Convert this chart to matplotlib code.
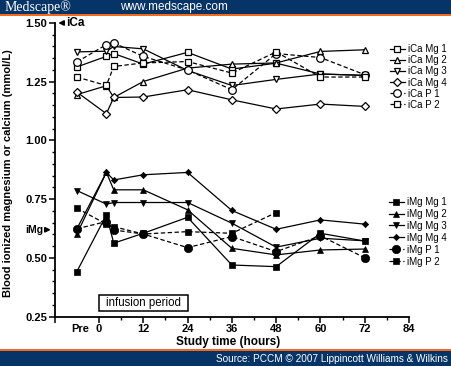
import matplotlib
matplotlib.use("Agg")
import matplotlib.pyplot as plt
import numpy as np
from matplotlib.patches import Rectangle

plt.rcParams['font.family'] = ['Liberation Sans', 'DejaVu Sans']

# ---- data ----
times = [-6, 2, 4, 12, 24, 36, 48, 60, 72]
time_ticks = [0, 12, 24, 36, 48, 60, 72, 84]

ica_mg1 = [1.313, 1.358, 1.370, 1.325, 1.375, 1.304, 1.329, 1.283, 1.277]
ica_mg2 = [1.195, 1.233, 1.183, 1.251, 1.308, 1.325, 1.330, 1.379, 1.386]
ica_mg3 = [1.377, 1.380, 1.400, 1.390, 1.298, 1.234, 1.260, 1.283, 1.277]
ica_mg4 = [1.206, 1.114, 1.183, 1.185, 1.216, 1.173, 1.134, 1.155, 1.145]
ica_p1  = [1.334, 1.408, 1.415, 1.358, 1.300, 1.216, 1.370, 1.353, 1.280]
ica_p2  = [1.270, 1.234, 1.315, 1.330, 1.336, 1.287, 1.377, 1.270, 1.270]

img_mg1 = [0.442, 0.683, 0.563, 0.605, 0.673, 0.470, 0.463, 0.605, 0.572]
img_mg2 = [0.602, 0.864, 0.790, 0.790, 0.705, 0.541, 0.513, 0.534, 0.538]
img_mg3 = [0.787, 0.729, 0.736, 0.736, 0.736, 0.648, 0.546, 0.584, 0.573]
img_mg4 = [0.624, 0.864, 0.832, 0.854, 0.864, 0.702, 0.622, 0.662, 0.644]
img_p1  = [0.624, 0.655, 0.619, 0.602, 0.544, 0.591, 0.527, 0.594, 0.501]
img_p2  = [0.712, 0.644, 0.633, 0.602, 0.612, 0.605, 0.693, np.nan, np.nan]

ica_ref = 1.50
img_ref = 0.62
infusion = (0, 24)

ica_labels = ['iCa Mg 1', 'iCa Mg 2', 'iCa Mg 3', 'iCa Mg 4', 'iCa P 1', 'iCa P 2']
img_labels = ['iMg Mg 1', 'iMg Mg 2', 'iMg Mg 3', 'iMg Mg 4', 'iMg P 1', 'iMg P 2']

NAVY = '#063466'
ORANGE = '#f26a1b'

fig = plt.figure(figsize=(4.51, 3.66), dpi=100)
fig.patch.set_facecolor('white')

# banners
fig.add_artist(Rectangle((0, 1 - 13.5/366), 1, 13.5/366, transform=fig.transFigure,
                         facecolor=NAVY, edgecolor='none', zorder=0))
fig.add_artist(Rectangle((0, 1 - 16/366), 1, 2.5/366, transform=fig.transFigure,
                         facecolor=ORANGE, edgecolor='none', zorder=0))
fig.add_artist(Rectangle((0, 0), 1, 15.5/366, transform=fig.transFigure,
                         facecolor=NAVY, edgecolor='none', zorder=0))
fig.add_artist(Rectangle((0, 15.5/366), 1, 2/366, transform=fig.transFigure,
                         facecolor=ORANGE, edgecolor='none', zorder=0))
fig.text(5/451, 1 - 7/366, 'Medscape®', color='white', fontsize=10,
         family=['Liberation Serif', 'DejaVu Serif'], va='center', ha='left')
fig.text(120/451, 1 - 7/366, 'www.medscape.com', color='white', fontsize=8.5,
         va='center', ha='left')
fig.text(448/451, 7.5/366, 'Source: PCCM © 2007 Lippincott Williams & Wilkins',
         color='white', fontsize=7.2, va='center', ha='right')

ax = fig.add_axes([54.7/451, 1 - 316.7/366, (409 - 54.7)/451, (316.7 - 23)/366])
ax.set_xlim(-12, 84)
ax.set_ylim(0.25, 1.50)
for s in ['top', 'right']:
    ax.spines[s].set_visible(False)
for s in ['left', 'bottom']:
    ax.spines[s].set_linewidth(1.3)

ax.set_xticks([-12, -5] + time_ticks)
ax.set_xticklabels(['', 'Pre'] + [str(t) for t in time_ticks])
ax.set_xticks(np.arange(6, 84, 12), minor=True)
ax.set_yticks([0.25, 0.50, 0.75, 1.00, 1.25, 1.50])
ax.set_yticklabels(['0.25', '0.50', '0.75', '1.00', '1.25', '1.50'])
ax.set_yticks(np.arange(0.30, 1.50, 0.05), minor=True)
ax.tick_params(axis='both', which='major', length=4, width=1.1, labelsize=8, pad=1.5)
ax.tick_params(axis='both', which='minor', length=2.5, width=1.0)
pre_tick = ax.xaxis.get_major_ticks()[1]
pre_tick.tick1line.set_visible(False)
pre_tick.label1.set_y(-0.0)
for lab in ax.get_xticklabels() + ax.get_yticklabels():
    lab.set_fontweight('bold')

ax.set_xlabel('Study time (hours)', fontsize=8.5, fontweight='bold')
ax.xaxis.set_label_coords(0.49, -0.065)
ax.set_ylabel('Blood ionized magnesium or calcium (mmol/L)', fontsize=8, fontweight='bold')
ax.yaxis.set_label_coords(-0.118, 0.49)

lw = 0.9
dash = (0, (3.5, 2))
ica_series = [ica_mg1, ica_mg2, ica_mg3, ica_mg4, ica_p1, ica_p2]
ica_markers = ['s', '^', 'v', 'D', 'o', 's']
ica_sizes = [5, 5, 5, 3.8, 5.5, 5]
ica_styles = ['-', '-', '-', '-', dash, dash]
ica_handles = []
for vals, m, ms, ls, lab in zip(ica_series, ica_markers, ica_sizes, ica_styles, ica_labels):
    h, = ax.plot(times, vals, color='black', lw=lw, linestyle=ls, marker=m, markersize=ms,
                 markerfacecolor='white', markeredgecolor='black', markeredgewidth=0.9,
                 label=lab, clip_on=False, zorder=3)
    ica_handles.append(h)

img_series = [img_mg1, img_mg2, img_mg3, img_mg4, img_p1, img_p2]
img_markers = ['s', '^', 'v', 'D', 'o', 's']
img_sizes = [5, 4.8, 4.8, 3.2, 6, 5]
img_styles = ['-', '-', '-', '-', dash, dash]
img_handles = []
for vals, m, ms, ls, lab in zip(img_series, img_markers, img_sizes, img_styles, img_labels):
    h, = ax.plot(times, vals, color='black', lw=lw, linestyle=ls, marker=m, markersize=ms,
                 markerfacecolor='black', markeredgecolor='black', markeredgewidth=0.5,
                 label=lab, clip_on=False, zorder=3)
    img_handles.append(h)

fig.legend(handles=ica_handles, labels=ica_labels, loc='upper left',
           bbox_to_anchor=(390/451, 1 - 44/366), frameon=False, fontsize=7,
           handlelength=1.5, handletextpad=0.35, labelspacing=0.12,
           borderpad=0, borderaxespad=0)
fig.legend(handles=img_handles, labels=img_labels, loc='upper left',
           bbox_to_anchor=(389/451, 1 - 197/366), frameon=False, fontsize=7,
           handlelength=1.5, handletextpad=0.35, labelspacing=0.2,
           borderpad=0, borderaxespad=0)

# infusion period box
ax.add_patch(Rectangle((infusion[0], 0.274), infusion[1] - infusion[0], 0.068,
                       facecolor='white', edgecolor='black', lw=1.1, zorder=4))
ax.text((infusion[0] + infusion[1]) / 2, 0.308, 'infusion period', ha='center', va='center',
        fontsize=8.3, zorder=5)

# reference arrows
ax.annotate('', xy=(-11.8, ica_ref), xytext=(-9.0, ica_ref),
            arrowprops=dict(arrowstyle='-|>', color='black', lw=1.3, mutation_scale=7),
            annotation_clip=False)
ax.text(-8.8, ica_ref, 'iCa', ha='left', va='center', fontsize=8.5, fontweight='bold')
ax.annotate('', xy=(-12.3, img_ref), xytext=(-15.0, img_ref),
            arrowprops=dict(arrowstyle='-|>', color='black', lw=1.3, mutation_scale=7),
            annotation_clip=False)
ax.text(-15.2, img_ref, 'iMg', ha='right', va='center', fontsize=7.5, fontweight='bold')

fig.savefig('out.png', dpi=100)
